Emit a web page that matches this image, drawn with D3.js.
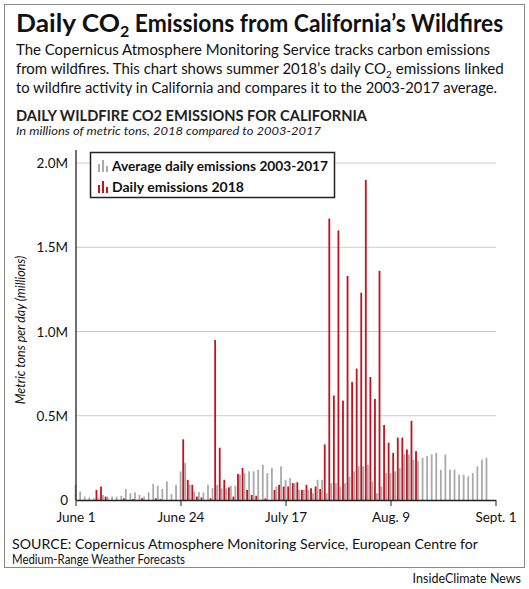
<!DOCTYPE html><html><head><meta charset="utf-8">
<script src="https://cdn.jsdelivr.net/npm/d3@7"></script>
<style>body{margin:0;background:#fff}svg{font-family:Lato,"Open Sans",sans-serif}</style></head><body>
<script>
const startDate = "2018-06-01";
const avgValues = [0.09,0.05,0.02,0.015,0.01,0.01,0.03,0.02,0.02,0.02,0.025,0.065,0.04,0.045,0.03,0.02,0.045,0.095,0.085,0.065,0.11,0.035,0.09,0.17,0.22,0.09,0.05,0.047,0.045,0.09,0.07,0.09,0.07,0.07,0.085,0.085,0.15,0.16,0.17,0.17,0.18,0.21,0.16,0.19,0.08,0.2,0.12,0.13,0.1,0.06,0.06,0.06,0.04,0.12,0.12,0.04,0.1,0.1,0.08,0.1,0.14,0.17,0.2,0.2,0.21,0.11,0.04,0.08,0.16,0.16,0.17,0.19,0.27,0.27,0.24,0.23,0.25,0.26,0.27,0.28,0.18,0.27,0.18,0.18,0.15,0.15,0.14,0.16,0.2,0.24,0.25];
const values2018 = [0,0,0,0,0.06,0.08,0.02,0,0,0,0.01,0,0.005,0,0.01,0,0,0.01,0.005,0,0,0,0,0.36,0.12,0.09,0.02,0.015,0,0.01,0.95,0.31,0.12,0.075,0.02,0.155,0.19,0.06,0.03,0.025,0,0.01,0,0.06,0.09,0.08,0.08,0.1,0.105,0.06,0.09,0.07,0.08,0.065,0.33,1.67,0.62,1.6,0.59,1.33,0.70,0.78,1.23,1.9,0.73,0.6,1.36,0.445,0.34,0.28,0.37,0.37,0.30,0.47,0.29];
const yTicks = [0,0.5,1.0,1.5,2.0];
const xTickLabels = [["2018-06-01","June 1"],["2018-06-24","June 24"],["2018-07-17","July 17"],["2018-08-09","Aug. 9"],["2018-09-01","Sept. 1"]];

const W=529,H=589;
const svg=d3.select("body").append("svg").attr("width",W).attr("height",H);
svg.append("rect").attr("x",4.5).attr("y",4.5).attr("width",520).attr("height",563).attr("fill","none").attr("stroke","#888");
const t=(x,y,s,o={})=>{const e=svg.append("text").attr("x",x).attr("y",y).text(s).attr("font-size",o.size||14).attr("fill",o.fill||"#111");if(o.w)e.attr("font-weight",o.w);if(o.i)e.attr("font-style","italic");if(o.a)e.attr("text-anchor",o.a);if(o.len)e.attr("textLength",o.len).attr("lengthAdjust","spacingAndGlyphs");return e;};
const tt=svg.append("text").attr("x",16).attr("y",32).attr("font-size",25).attr("font-weight","bold").attr("fill","#111");
tt.append("tspan").text("Daily CO").attr("textLength",104).attr("lengthAdjust","spacingAndGlyphs");
tt.append("tspan").text("2").attr("font-size",16).attr("dy",5);
tt.append("tspan").text(" Emissions from California’s Wildfires").attr("dy",-5).attr("textLength",374).attr("lengthAdjust","spacingAndGlyphs");
t(16,55,"The Copernicus Atmosphere Monitoring Service tracks carbon emissions",{size:14.5,len:474});
const l2=t(16,74,"",{size:14.5});
l2.append("tspan").text("from wildfires. This chart shows summer 2018’s daily CO").attr("textLength",370).attr("lengthAdjust","spacingAndGlyphs");
l2.append("tspan").text("2").attr("font-size",10).attr("dy",4);
l2.append("tspan").text(" emissions linked").attr("dy",-4).attr("textLength",112).attr("lengthAdjust","spacingAndGlyphs");
t(16,93,"to wildfire activity in California and compares it to the 2003-2017 average.",{size:14.5,len:481});
t(16,121,"DAILY WILDFIRE CO2 EMISSIONS FOR CALIFORNIA",{size:14.5,w:"bold",fill:"#222",len:351});
t(16,135,"In millions of metric tons, 2018 compared to 2003-2017",{size:12,i:true,fill:"#222",len:305});
const parse=d3.timeParse("%Y-%m-%d");
const x=d3.scaleTime().domain([parse("2018-06-01"),parse("2018-09-01")]).range([76,496]);
const y=d3.scaleLinear().domain([0,2]).range([500,163]);
const g=svg.append("g");
yTicks.forEach(v=>{ if(v>0) g.append("line").attr("x1",76).attr("x2",496).attr("y1",y(v)).attr("y2",y(v)).attr("stroke","#ccc");
 t(68,y(v)+5,v===0?"0":v.toFixed(1)+"M",{size:13.5,a:"end"});});
const day=i=>d3.timeDay.offset(parse(startDate),i);
g.selectAll(".a").data(avgValues).join("rect").attr("x",(d,i)=>x(day(i))-1.3).attr("width",1.8).attr("y",d=>y(d)).attr("height",d=>y(0)-y(d)).attr("fill","#aaa");
g.selectAll(".r").data(values2018).join("rect").attr("x",(d,i)=>x(day(i))+1.3).attr("width",1.8).attr("y",d=>y(d)).attr("height",d=>y(0)-y(d)).attr("fill","#c1121f");
g.append("line").attr("x1",76).attr("x2",496).attr("y1",500.5).attr("y2",500.5).attr("stroke","#222").attr("stroke-width",1.3);
g.append("line").attr("x1",76).attr("x2",76).attr("y1",150).attr("y2",500).attr("stroke","#222").attr("stroke-width",1.3);
xTickLabels.forEach(([d,l])=>{const xx=x(parse(d));g.append("line").attr("x1",xx).attr("x2",xx).attr("y1",500).attr("y2",506).attr("stroke","#222");t(xx,522,l,{size:13.5,a:"middle"});});
t(0,0,"Metric tons per day (millions)",{size:12.5,i:true,a:"middle"}).attr("transform","translate(25,330) rotate(-90)");
svg.append("rect").attr("x",90.5).attr("y",152.5).attr("width",244).attr("height",45).attr("fill","#fff").attr("stroke","#222").attr("stroke-width",1.5);
[["#aaa","Average daily emissions 2003-2017",169,216],["#c1121f","Daily emissions 2018",190,132]].forEach(([c,l,yy,len])=>{
 [0,4,8].forEach((dx,k)=>svg.append("rect").attr("x",98+dx).attr("y",yy-9+[4,0,6][k]).attr("width",2).attr("height",12-[4,0,6][k]).attr("fill",c));
 t(112,yy+2,l,{size:13.5,w:"bold",len});});
t(12,549,"SOURCE:  Copernicus Atmosphere Monitoring Service, European Centre for",{size:12.5,len:466});
t(12,564,"Medium-Range Weather Forecasts",{size:12.5,len:173});
t(521,583,"InsideClimate News",{size:12.5,a:"end"});
</script></body></html>
